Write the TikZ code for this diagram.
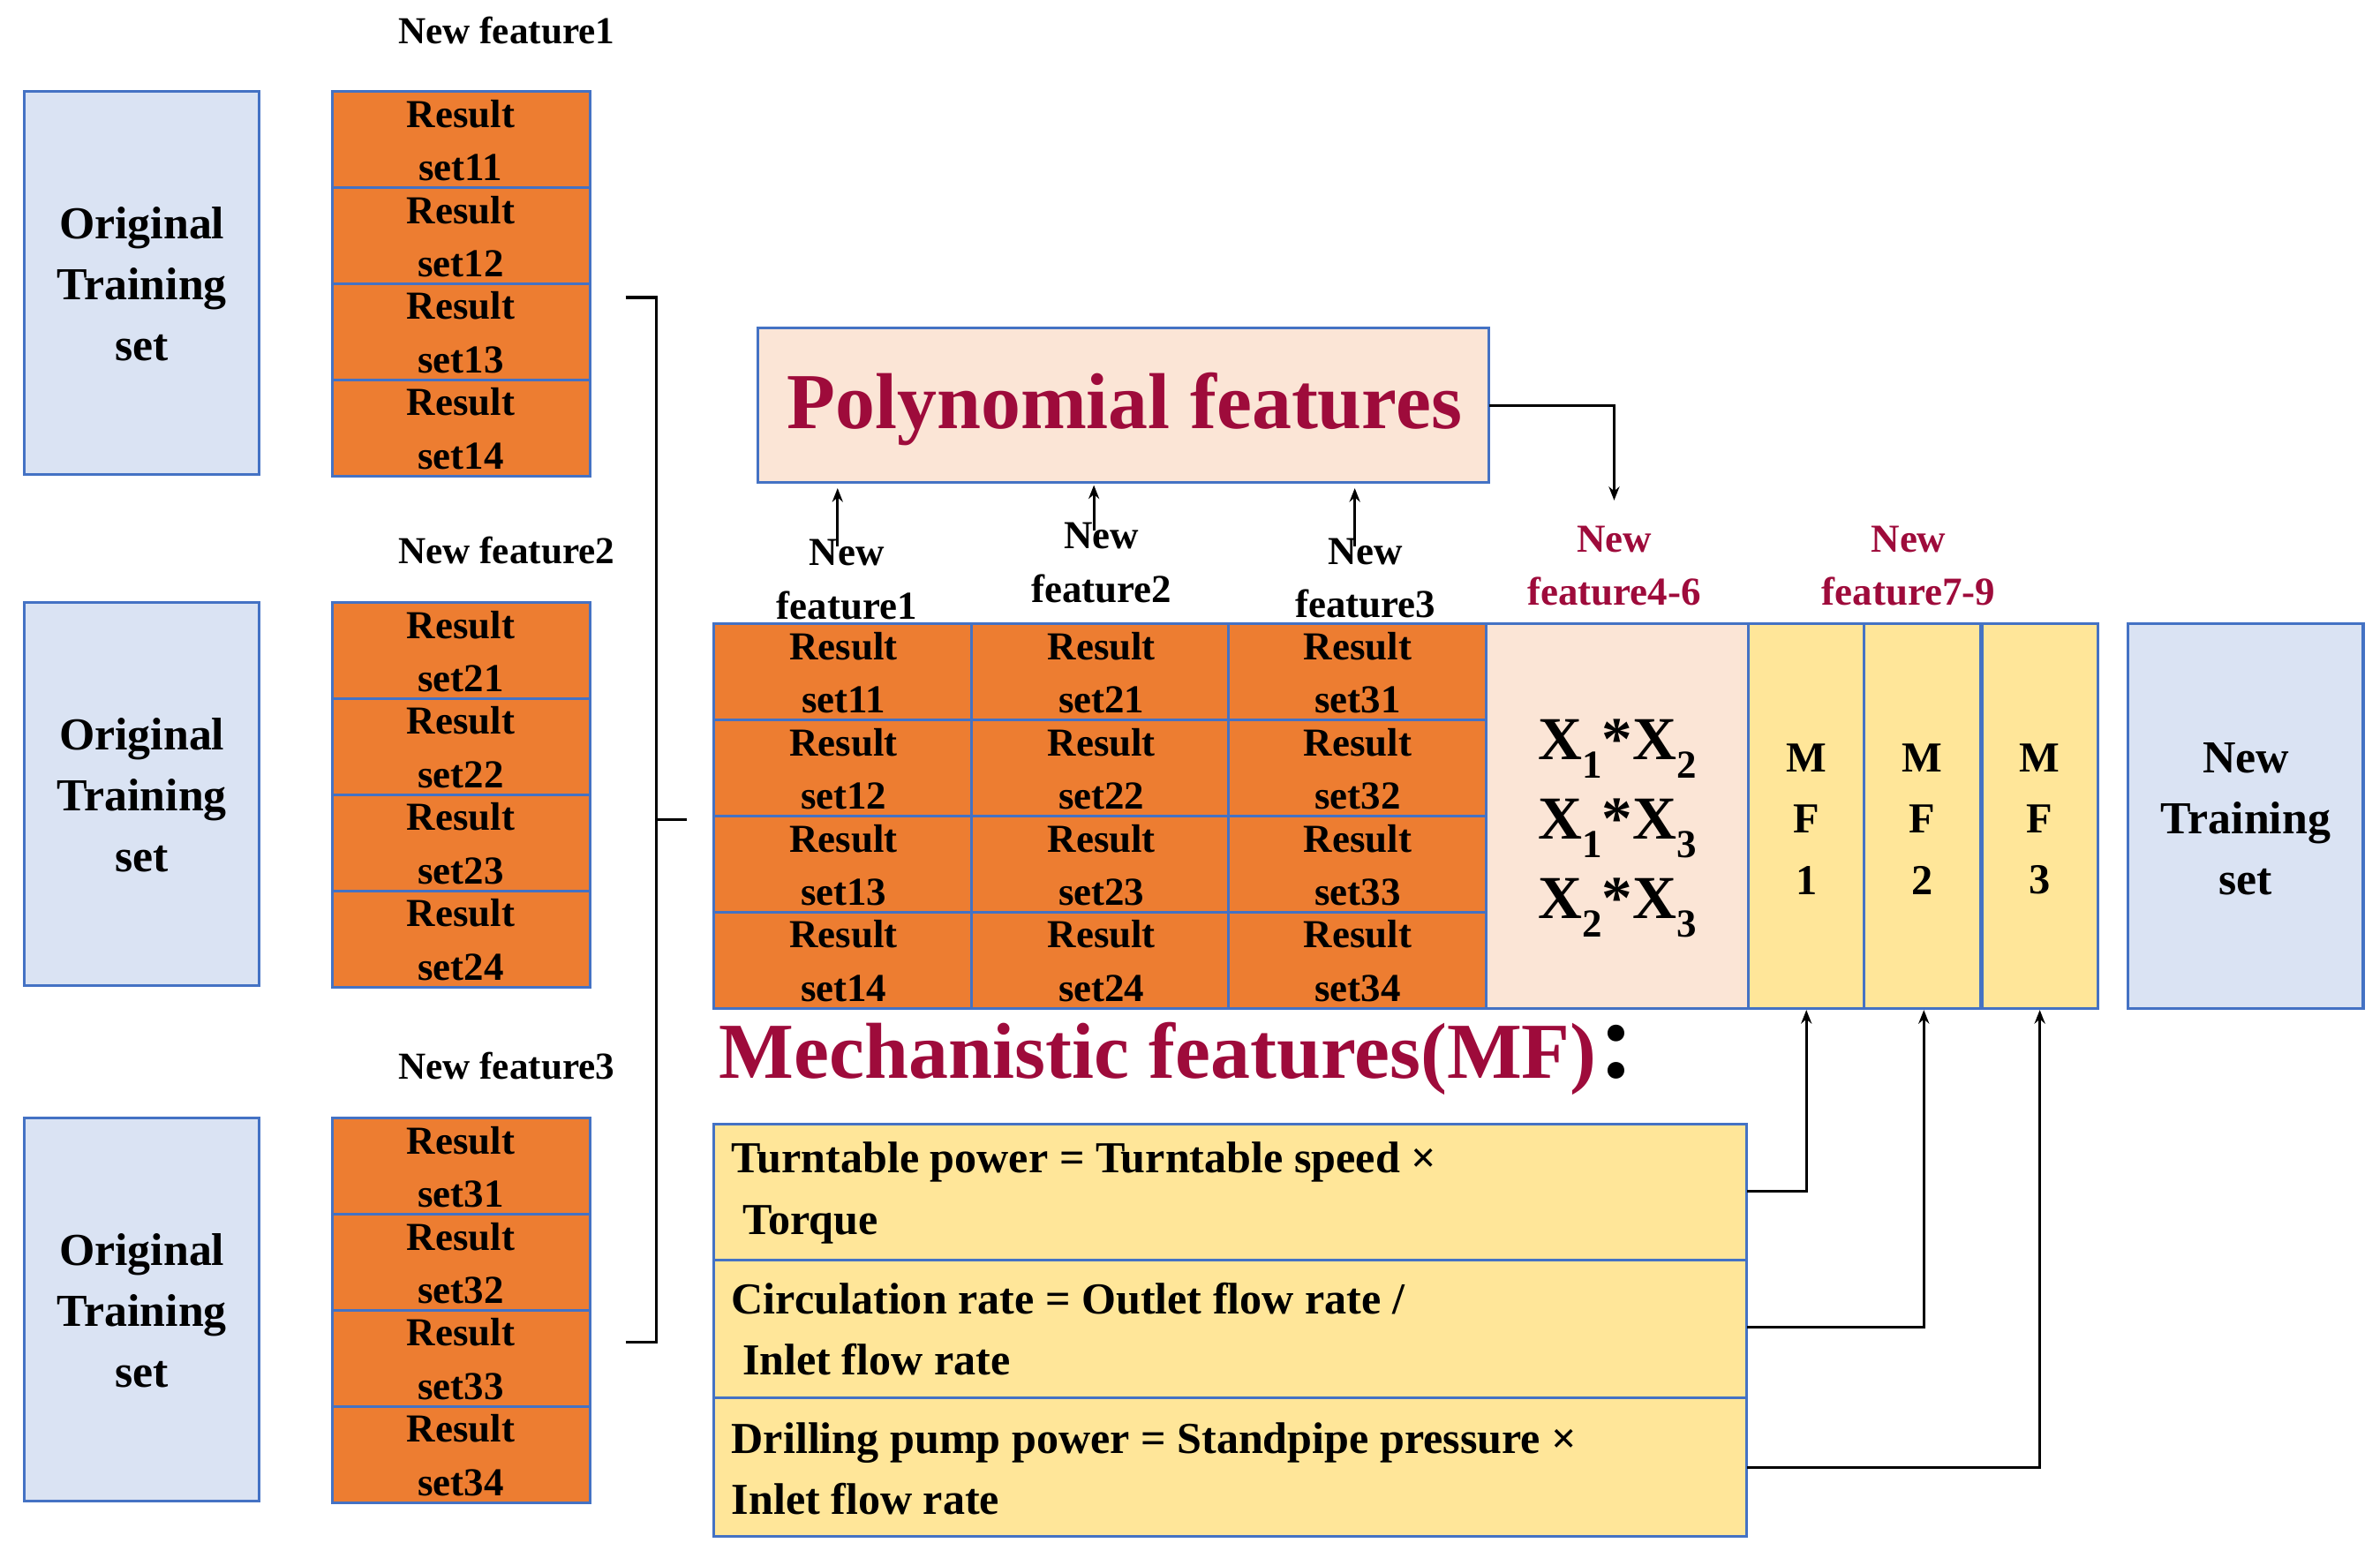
\documentclass[tikz,border=0pt]{standalone}
\usepackage{fontspec}
\setmainfont{Liberation Serif}
\newfontfamily\cjk{Noto Sans CJK SC}
\usetikzlibrary{arrows.meta}
\definecolor{lb}{HTML}{DAE3F3}
\definecolor{bd}{HTML}{4472C4}
\definecolor{og}{HTML}{ED7D31}
\definecolor{pk}{HTML}{FBE5D6}
\definecolor{yl}{HTML}{FFE699}
\definecolor{rd}{HTML}{9E0B3B}
\tikzset{
 box/.style={draw=bd,line width=1.8pt},
 lbl/.style={font=\fontsize{26}{35}\selectfont\bfseries,align=center},
 conn/.style={draw=black,line width=1.8pt},
 arr/.style={conn,-{Stealth[length=9pt,width=7pt]}}
}
\newcommand{\sbx}[1]{\raisebox{-0.3em}{\fontsize{26}{26}\selectfont\bfseries #1}}
\begin{document}
\begin{tikzpicture}[x=1pt,y=-1pt]
\useasboundingbox (0,0) rectangle (1560,1021);
% left groups
\foreach \g/\y in {1/60,2/395,3/733}{
 \draw[box,fill=lb] (16,\y) rectangle (170,\y+251);
 \node[lbl,font=\fontsize{30}{40}\selectfont\bfseries] (ots\g) at (93,\y+126) {Original\\Training\\set};
 \foreach \r in {1,...,4}{
  \draw[box,fill=og] (218,\y+63*\r-63) rectangle (387,\y+63*\r);
  \node[lbl] (rs\g\r) at (302,\y+63*\r-31) {Result\\set\g\r};
 }
}
\node[lbl,font=\fontsize{25}{30}\selectfont\bfseries] (nf1) at (332,20) {New feature1};
\node[lbl,font=\fontsize{25}{30}\selectfont\bfseries] (nf2) at (332,361) {New feature2};
\node[lbl,font=\fontsize{25}{30}\selectfont\bfseries] (nf3) at (332,699) {New feature3};
% bracket
\coordinate (bt) at (410,195); \coordinate (bb) at (410,880); \coordinate (bm) at (450,537);
\draw[conn] (bt) -- (430,195) -- (430,880) -- (bb);
\draw[conn] (430,537) -- (bm);
% polynomial
\draw[box,fill=pk] (497,215) rectangle (976,316);
\node[font=\fontsize{52}{56}\selectfont\bfseries,text=rd] (poly) at (737,268) {Polynomial features};
\coordinate (pr) at (976,266);
\coordinate (pt) at (1058,328);
\draw[arr] (pr) -- (1058,266) -- (pt);
% table
\foreach \c/\x in {1/468,2/637,3/805}{
 \foreach \r in {1,...,4}{
  \draw[box,fill=og] (\x,409+63*\r-63) rectangle (\x+169,409+63*\r);
  \node[lbl] (t\c\r) at (\x+85,409+63*\r-31) {Result\\set\c\r};
 }
}
\node[lbl] (h1) at (555,380) {New\\feature1};
\node[lbl] (h2) at (722,369) {New\\feature2};
\node[lbl] (h3) at (895,379) {New\\feature3};
\coordinate (a1) at (549,320); \coordinate (a2) at (717,318); \coordinate (a3) at (888,320);
\draw[arr] (549,358) -- (a1);
\draw[arr] (717,348) -- (a2);
\draw[arr] (888,358) -- (a3);
% pink
\draw[box,fill=pk] (974,409) rectangle (1146,661);
\node[font=\fontsize{40}{52}\selectfont\bfseries,align=center] (xx) at (1060,543) {X\sbx{1}*X\sbx{2}\\X\sbx{1}*X\sbx{3}\\X\sbx{2}*X\sbx{3}};
\node[lbl,text=rd] (h4) at (1058,371) {New\\feature4-6};
\node[lbl,text=rd] (h7) at (1251,371) {New\\feature7-9};
% MF
\foreach \i/\x in {1/1146,2/1222,3/1299}{
 \draw[box,fill=yl] (\x,409) rectangle (\x+76,661);
 \node[font=\fontsize{28}{40}\selectfont\bfseries,align=center] (mf\i) at (\x+38,537) {M\\F\\\i};
}
\draw[box,fill=lb] (1395,409) rectangle (1549,661);
\node[lbl,font=\fontsize{30}{40}\selectfont\bfseries] (nts) at (1472,537) {New\\Training\\set};
\node[font=\fontsize{52}{56}\selectfont\bfseries] (mech) at (785,694) {\textcolor{rd}{Mechanistic features(MF)}{\cjk\bfseries ：}};
% MF boxes
\tikzset{mftxt/.style={font=\fontsize{29}{40}\selectfont\bfseries,align=left,anchor=west}}
\draw[box,fill=yl] (468,737) rectangle (1145,826);
\node[mftxt] (m1) at (476,782) {Turntable power = Turntable speed ×\\\ Torque};
\draw[box,fill=yl] (468,826) rectangle (1145,916);
\node[mftxt] (m2) at (476,871) {Circulation rate = Outlet flow rate /\\\ Inlet flow rate};
\draw[box,fill=yl] (468,916) rectangle (1145,1007);
\node[mftxt] (m3) at (476,963) {Drilling pump power = Standpipe pressure ×\\Inlet flow rate};
\coordinate (e1) at (1145,781); \coordinate (e2) at (1145,870); \coordinate (e3) at (1145,962);
\draw[arr] (e1) -- (1184,781) -- (1184,662);
\draw[arr] (e2) -- (1261,870) -- (1261,662);
\draw[arr] (e3) -- (1337,962) -- (1337,662);
\end{tikzpicture}
\end{document}
